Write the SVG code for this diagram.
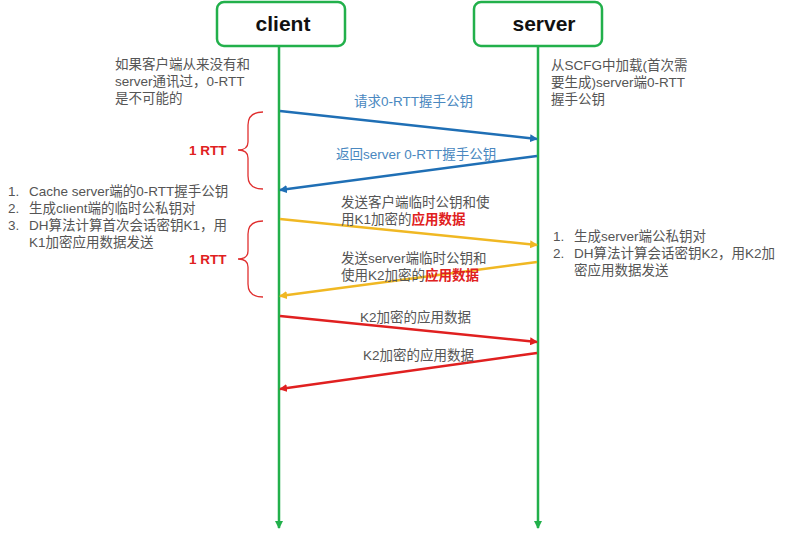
<svg xmlns="http://www.w3.org/2000/svg" width="800" height="538" viewBox="0 0 800 538">
<style>
text{font-family:"Liberation Sans","Noto Sans CJK SC",sans-serif;font-size:13.5px;fill:#555}
.hd{font-size:21px;font-weight:bold;fill:#111;text-anchor:middle}
.box{fill:#fff;stroke:#22b04b;stroke-width:2.5}
.life{stroke:#22b04b;stroke-width:2.5}
.blue{stroke:#1f6fb5;stroke-width:2.5}
.yel{stroke:#f0b823;stroke-width:2.5}
.red{stroke:#e02020;stroke-width:2.5}
.bl{fill:#4a88c0}
.rt{fill:#e02020;font-weight:bold;font-size:13.5px}
.br{fill:none;stroke:#e03030;stroke-width:1.3}
</style>
<defs>
<marker id="ab" markerWidth="8" markerHeight="8" refX="7" refY="4" orient="auto" markerUnits="userSpaceOnUse"><path d="M0,0 L8,4 L0,8z" fill="#1f6fb5"/></marker>
<marker id="ay" markerWidth="8" markerHeight="8" refX="7" refY="4" orient="auto" markerUnits="userSpaceOnUse"><path d="M0,0 L8,4 L0,8z" fill="#f0b823"/></marker>
<marker id="ar" markerWidth="8" markerHeight="8" refX="7" refY="4" orient="auto" markerUnits="userSpaceOnUse"><path d="M0,0 L8,4 L0,8z" fill="#e02020"/></marker>
<marker id="ag" markerWidth="8" markerHeight="8" refX="7" refY="4" orient="auto" markerUnits="userSpaceOnUse"><path d="M0,0 L8,4 L0,8z" fill="#22b04b"/></marker>
</defs>
<g id="client"><line class="life" x1="279" y1="46" x2="279" y2="528" marker-end="url(#ag)"/><rect class="box" x="217" y="2" width="128" height="44" rx="7"/><text class="hd" x="283" y="31">client</text></g>
<g id="server"><line class="life" x1="538" y1="46" x2="538" y2="528" marker-end="url(#ag)"/><rect class="box" x="474" y="2" width="128" height="44" rx="7"/><text class="hd" x="544" y="31">server</text></g>
<g id="notes">
<text x="115" y="69">如果客户端从来没有和</text><text x="115" y="86">server通讯过，0-RTT</text><text x="115" y="103">是不可能的</text>
<text x="551" y="70">从SCFG中加载(首次需</text><text x="551" y="87">要生成)server端0-RTT</text><text x="551" y="104">握手公钥</text>
<text x="8" y="196">1.</text><text x="29" y="196">Cache server端的0-RTT握手公钥</text>
<text x="8" y="213">2.</text><text x="29" y="213">生成client端的临时公私钥对</text>
<text x="8" y="230">3.</text><text x="29" y="230">DH算法计算首次会话密钥K1，用</text>
<text x="29" y="247">K1加密应用数据发送</text>
<text x="553" y="241">1.</text><text x="574" y="241">生成server端公私钥对</text>
<text x="553" y="258">2.</text><text x="574" y="258">DH算法计算会话密钥K2，用K2加</text>
<text x="574" y="275">密应用数据发送</text>
</g>
<g id="braces">
<path class="br" d="M263,112 Q248,112 248,125 L248,142 Q248,150 238,150 Q248,150 248,158 L248,176 Q248,189 263,189"/>
<text class="rt" x="189" y="155">1 RTT</text>
<path class="br" d="M263,221 Q248,221 248,234 L248,251 Q248,259 238,259 Q248,259 248,267 L248,284 Q248,297 263,297"/>
<text class="rt" x="189" y="264">1 RTT</text>
</g>
<g id="connectors">
<line class="blue" x1="280" y1="111" x2="537" y2="139" marker-end="url(#ab)"/>
<text class="bl" x="354" y="106">请求0-RTT握手公钥</text>
<line class="blue" x1="537" y1="156" x2="280" y2="190" marker-end="url(#ab)"/>
<text class="bl" x="336" y="159">返回server 0-RTT握手公钥</text>
<line class="yel" x1="280" y1="219" x2="537" y2="245" marker-end="url(#ay)"/>
<text x="341" y="207">发送客户端临时公钥和使</text>
<text x="341" y="224">用K1加密的<tspan fill="#e02020" font-weight="bold">应用数据</tspan></text>
<line class="yel" x1="537" y1="262" x2="280" y2="296" marker-end="url(#ay)"/>
<text x="341" y="263">发送server端临时公钥和</text>
<text x="341" y="280">使用K2加密的<tspan fill="#e02020" font-weight="bold">应用数据</tspan></text>
<line class="red" x1="280" y1="316" x2="537" y2="342" marker-end="url(#ar)"/>
<text x="360" y="322">K2加密的应用数据</text>
<line class="red" x1="537" y1="353" x2="280" y2="389" marker-end="url(#ar)"/>
<text x="363" y="360">K2加密的应用数据</text>
</g>
</svg>
